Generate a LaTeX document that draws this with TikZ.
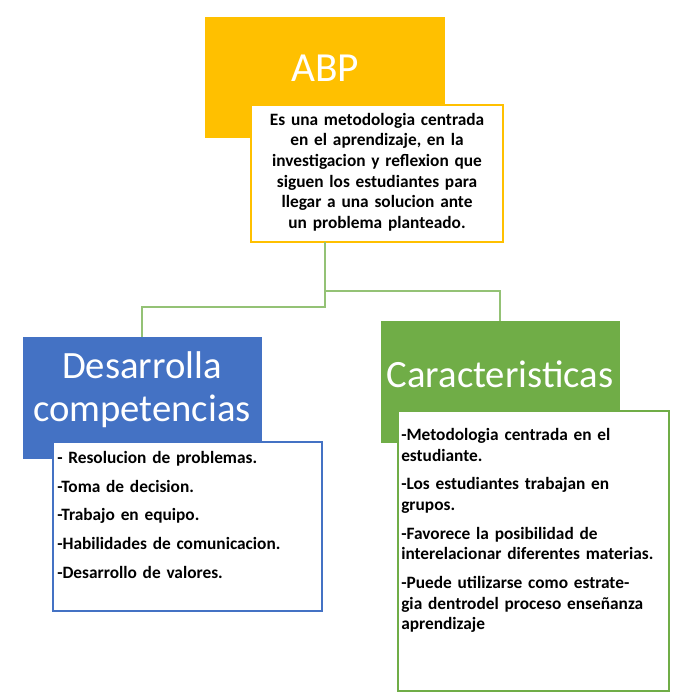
\documentclass[tikz,border=0pt]{standalone}
\usepackage{fontspec}
\setmainfont{Carlito}
\begin{document}
\begin{tikzpicture}[x=0.75pt,y=-0.75pt,
  title/.style={anchor=center,text=white,font=\fontsize{29}{32}\selectfont,align=center},
  body/.style={font=\bfseries\fontsize{13}{15.5}\selectfont},
  ]
\useasboundingbox (0,0) rectangle (680,699);
\definecolor{ylw}{HTML}{FFC000}\definecolor{blu}{HTML}{4472C4}\definecolor{grn}{HTML}{70AD47}
\colorlet{lnk}{grn!75!white}
% ABP
\fill[ylw] (205,17) rectangle (445,138);
\node[title,font=\fontsize{31}{33}\selectfont] (abp) at (325,68) {ABP};
\draw[ylw,fill=white,line width=0.8pt] (251,105) rectangle (503,242);
\node[body,align=center,text width=180pt] (abpt) at (377,172) {\hyphenpenalty=10000 Es una metodologia centrada en el aprendizaje, en la investigacion y reflexion que siguen los estudiantes para llegar a una solucion ante un problema planteado.};
\coordinate (top) at (325,242);
\coordinate (j1) at (325,307);\coordinate (j2) at (325,291);
\coordinate (l1) at (142,307);\coordinate (l2) at (142,337);
\coordinate (r1) at (500,291);\coordinate (r2) at (500,321);
\draw[lnk,line width=1pt] (top) -- (j1) -- (l1) -- (l2);
\draw[lnk,line width=1pt] (j2) -- (r1) -- (r2);
% left
\fill[blu] (23,337) rectangle (262,459);
\node[title] (des) at (142,390) {Desarrolla\\competencias};
\draw[blu,fill=white,line width=0.8pt] (53,442) rectangle (322,611);
\node[body,anchor=north west,align=left,text width=196pt,inner sep=0pt] (dest) at (57,451) {- Resolucion de problemas.\\[6pt]-Toma de decision.\\[6pt]-Trabajo en equipo.\\[6pt]-Habilidades de comunicacion.\\[6pt]-Desarrollo de valores.};
% right
\fill[grn] (381,321) rectangle (620,443);
\node[title] (car) at (500,374) {Caracteristicas};
\draw[grn,fill=white,line width=0.8pt] (398,411) rectangle (669,691);
\node[body,anchor=north west,align=left,text width=196pt,inner sep=0pt] (cart) at (401,428) {\hyphenpenalty=10000 -Metodologia centrada en el estudiante.\\[6pt]-Los estudiantes trabajan en grupos.\\[6pt]-Favorece la posibilidad de interelacionar diferentes materias.\\[6pt]-Puede utilizarse como estrategia dentrodel proceso enseñanza aprendizaje};
\end{tikzpicture}
\end{document}
